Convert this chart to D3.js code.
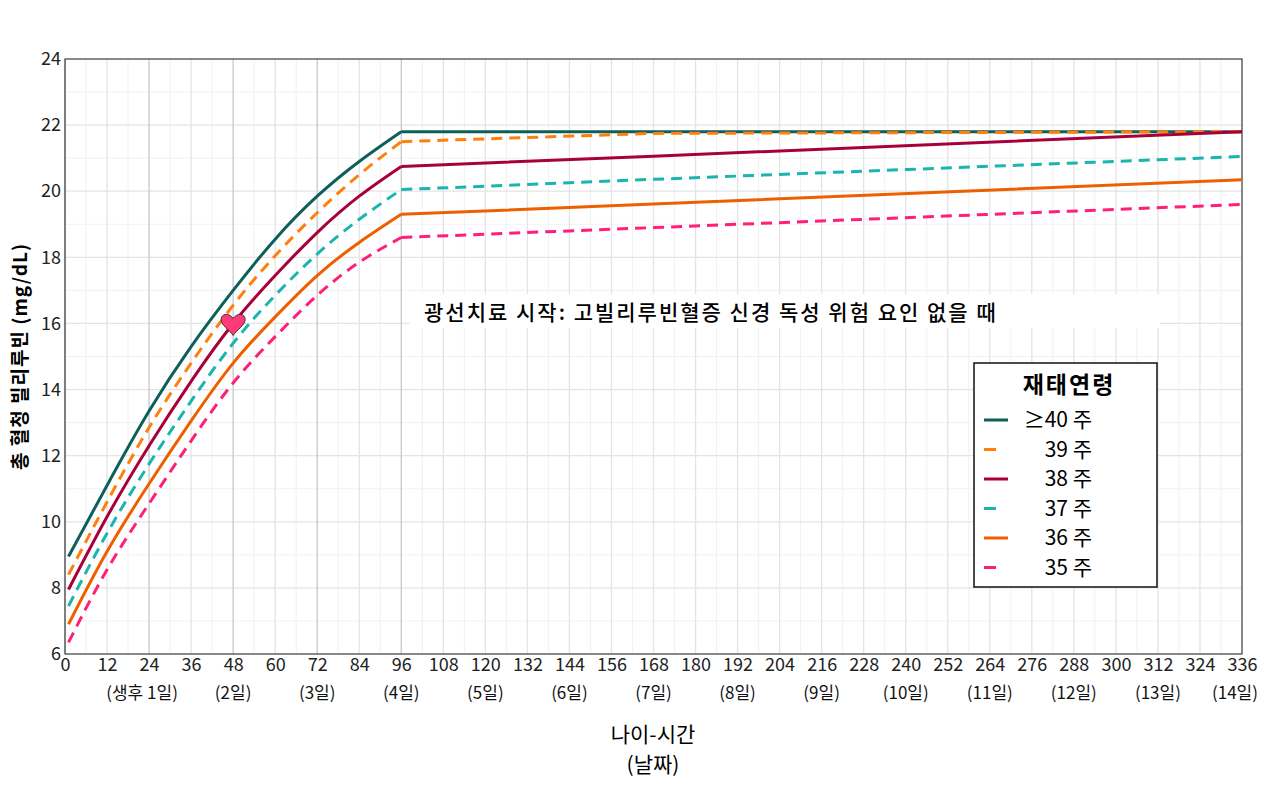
<!DOCTYPE html>
<html><head><meta charset="utf-8">
<script src="https://cdn.jsdelivr.net/npm/d3@7"></script>
<style>body{margin:0;background:#fff}text{font-family:"Noto Sans CJK KR","Noto Sans",sans-serif}</style>
</head><body><svg id="chart"></svg>
<script>
const hours = [1, 12, 24, 36, 48, 60, 72, 84, 96, 168, 336];
const ga40 = [8.95, 11.1, 13.35, 15.3, 17.0, 18.55, 19.85, 20.9, 21.8, 21.8, 21.8];
const ga39 = [8.4, 10.6, 12.85, 14.8, 16.55, 18.05, 19.35, 20.5, 21.5, 21.75, 21.8];
const ga38 = [7.95, 10.15, 12.3, 14.25, 16.0, 17.45, 18.75, 19.85, 20.75, 21.06, 21.8];
const ga37 = [7.45, 9.65, 11.75, 13.65, 15.4, 16.85, 18.1, 19.15, 20.05, 20.36, 21.05];
const ga36 = [6.9, 9.1, 11.15, 13.05, 14.8, 16.2, 17.45, 18.45, 19.3, 19.61, 20.35];
const ga35 = [6.35, 8.55, 10.55, 12.45, 14.2, 15.6, 16.85, 17.85, 18.6, 18.9, 19.6];
const seriesNames = ["≥40 주", "39 주", "38 주", "37 주", "36 주", "35 주"];
const seriesColors = ["#0d5f5a", "#ff7f0e", "#a8003a", "#19b5ae", "#ee5f00", "#ff1f7a"];
const seriesDashed = [false, true, false, true, false, true];
const allSeries = [ga40, ga39, ga38, ga37, ga36, ga35];
const xTicks = d3.range(0, 337, 12);
const dayLabels = ["(생후 1일)", "(2일)", "(3일)", "(4일)", "(5일)", "(6일)", "(7일)", "(8일)", "(9일)", "(10일)", "(11일)", "(12일)", "(13일)", "(14일)"];
const dayHours = [22, 48, 72, 96, 120, 144, 168, 192, 216, 240, 264, 288, 312, 334];
const yTicks = d3.range(6, 25, 2);

const W = 1280, H = 806;
const m = {top: 59, left: 65, right: 38, bottom: 152};
const svg = d3.select("#chart").attr("width", W).attr("height", H);
const x = d3.scaleLinear().domain([0, 336]).range([m.left, W - m.right]);
const y = d3.scaleLinear().domain([6, 24]).range([H - m.bottom, m.top]);

const g = svg.append("g");
g.selectAll(".vmin").data(d3.range(6, 337, 12)).join("line")
  .attr("x1", d => x(d)).attr("x2", d => x(d)).attr("y1", y(6)).attr("y2", y(24))
  .attr("stroke", "#f1f1f1").attr("stroke-width", 1);
g.selectAll(".hmin").data(d3.range(7, 24, 2)).join("line")
  .attr("x1", x(0)).attr("x2", x(336)).attr("y1", d => y(d)).attr("y2", d => y(d))
  .attr("stroke", "#f1f1f1").attr("stroke-width", 1);
g.selectAll(".hmaj").data(yTicks).join("line")
  .attr("x1", x(0)).attr("x2", x(336)).attr("y1", d => y(d)).attr("y2", d => y(d))
  .attr("stroke", "#e4e4e4").attr("stroke-width", 1.2);
g.selectAll(".vmaj").data(xTicks).join("line")
  .attr("x1", d => x(d)).attr("x2", d => x(d)).attr("y1", y(6)).attr("y2", y(24))
  .attr("stroke", d => (d % 24 === 0 && d <= 96) ? "#c8c8c8" : "#e4e4e4").attr("stroke-width", 1.3);
g.append("rect").attr("x", x(0)).attr("y", y(24)).attr("width", x(336) - x(0)).attr("height", y(6) - y(24))
  .attr("fill", "none").attr("stroke", "#222").attr("stroke-width", 1);

const xa = svg.append("g").attr("transform", `translate(0,${y(6)})`)
  .call(d3.axisBottom(x).tickValues(xTicks).tickSize(0).tickPadding(4));
xa.select(".domain").remove();
xa.selectAll("text").attr("font-size", 18).attr("fill", "#222");
const ya = svg.append("g").attr("transform", `translate(${x(0)},0)`)
  .call(d3.axisLeft(y).tickValues(yTicks).tickSize(0).tickPadding(4));
ya.select(".domain").remove();
ya.selectAll("text").attr("font-size", 18).attr("fill", "#222");

svg.selectAll(".day").data(dayLabels).join("text")
  .attr("x", (d, i) => x(dayHours[i]))
  .attr("y", 699).attr("text-anchor", "middle").attr("font-size", 17).attr("fill", "#111").text(d => d);

svg.append("text").attr("x", 653).attr("y", 742).attr("text-anchor", "middle").attr("font-size", 21).text("나이-시간");
svg.append("text").attr("x", 653).attr("y", 772).attr("text-anchor", "middle").attr("font-size", 21).text("(날짜)");
svg.append("text").attr("transform", `translate(27,${(y(6) + y(24)) / 2}) rotate(-90)`)
  .attr("text-anchor", "middle").attr("font-size", 19).attr("font-weight", "bold").attr("letter-spacing", 1).text("총 혈청 빌리루빈 (mg/dL)");

const line = d3.line().x((d, i) => x(hours[i])).y(d => y(d)).curve(d3.curveNatural);
const lineSeg = (vals) => {
  const a = line(vals.slice(0, 9));
  const l2 = d3.line().x((d, i) => x(hours[i + 8])).y(d => y(d));
  return a + "M" + l2(vals.slice(8)).slice(1);
};
allSeries.forEach((vals, i) => {
  svg.append("path").attr("d", lineSeg(vals)).attr("fill", "none")
    .attr("stroke", seriesColors[i]).attr("stroke-width", 3)
    .attr("stroke-dasharray", seriesDashed[i] ? "11,7" : null);
});

svg.append("rect").attr("x", 410).attr("y", 294).attr("width", 750).attr("height", 34).attr("fill", "#fff");
svg.append("text").attr("x", 424).attr("y", 320).attr("font-size", 21).attr("font-weight", 500).attr("letter-spacing", 2)
  .text("광선치료 시작: 고빌리루빈혈증 신경 독성 위험 요인 없을 때");

const hx = x(48), hy = y(16);
svg.append("path")
  .attr("d", `M${hx},${hy + 12} C${hx - 4},${hy + 6} ${hx - 12},${hy + 2} ${hx - 12},${hy - 4} C${hx - 12},${hy - 10} ${hx - 4},${hy - 11} ${hx},${hy - 5} C${hx + 4},${hy - 11} ${hx + 12},${hy - 10} ${hx + 12},${hy - 4} C${hx + 12},${hy + 2} ${hx + 4},${hy + 6} ${hx},${hy + 12}Z`)
  .attr("fill", "#ff3a78").attr("stroke", "#333").attr("stroke-width", 1);

const lg = svg.append("g").attr("transform", "translate(974,363)");
lg.append("rect").attr("width", 183).attr("height", 224).attr("fill", "#fff").attr("stroke", "#111").attr("stroke-width", 1.5);
lg.append("text").attr("x", 95).attr("y", 30).attr("text-anchor", "middle").attr("font-size", 23).attr("font-weight", "bold").attr("letter-spacing", 2).text("재태연령");
seriesNames.forEach((n, i) => {
  const yy = 57 + i * 29.5;
  lg.append("line").attr("x1", 10).attr("x2", 34).attr("y1", yy).attr("y2", yy)
    .attr("stroke", seriesColors[i]).attr("stroke-width", 3).attr("stroke-dasharray", seriesDashed[i] ? "12,30" : null);
  lg.append("text").attr("x", 118).attr("y", yy + 7).attr("text-anchor", "end").attr("font-size", 21).text(n);
});
</script></body></html>
